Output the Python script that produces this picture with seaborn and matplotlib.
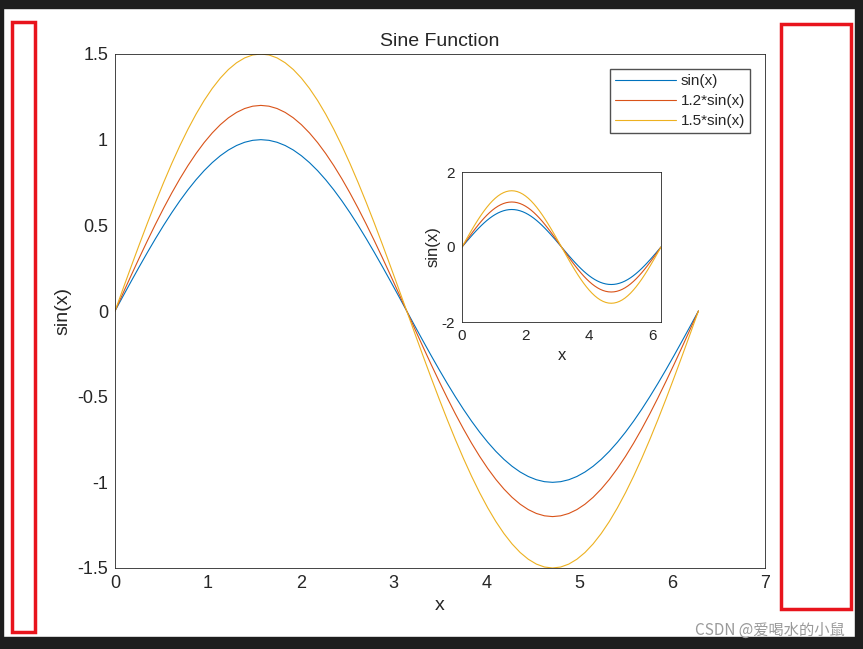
import numpy as np
import matplotlib
matplotlib.use("Agg")
import matplotlib.pyplot as plt
import matplotlib.patches as mpatches
from matplotlib import font_manager
import seaborn as sns

# x in radians, sampled every 5 degrees from 0 to 2*pi
x_vals = [k * np.pi / 36 for k in range(73)]
sin_vals = [0, .0872, .1736, .2588, .3420, .4226, .5, .5736, .6428, .7071, .7660, .8192,
            .8660, .9063, .9397, .9659, .9848, .9962, 1,
            .9962, .9848, .9659, .9397, .9063, .8660, .8192, .7660, .7071, .6428, .5736,
            .5, .4226, .3420, .2588, .1736, .0872, 0,
            -.0872, -.1736, -.2588, -.3420, -.4226, -.5, -.5736, -.6428, -.7071, -.7660, -.8192,
            -.8660, -.9063, -.9397, -.9659, -.9848, -.9962, -1,
            -.9962, -.9848, -.9659, -.9397, -.9063, -.8660, -.8192, -.7660, -.7071, -.6428, -.5736,
            -.5, -.4226, -.3420, -.2588, -.1736, -.0872, 0]
amplitudes = [1.0, 1.2, 1.5]
labels = ["sin(x)", "1.2*sin(x)", "1.5*sin(x)"]
colors = ["#0072BD", "#D95319", "#EDB120"]

sns.set_style("white")
plt.rcParams["font.family"] = ["Liberation Sans"]
plt.rcParams["axes.unicode_minus"] = False

# find a regular-weight CJK font file for the watermark
cjk_files = [f for f in font_manager.findSystemFonts() if "CJK" in f or "cjk" in f]
cjk_files.sort(key=lambda f: ("Regular" not in f, "Bold" in f, "SC" not in f, f))
cjk_prop = font_manager.FontProperties(fname=cjk_files[0]) if cjk_files else None

fig = plt.figure(figsize=(8.63, 6.49), dpi=100)
fig.patch.set_facecolor("white")

# dark frame around the screenshot
W, H = 863, 649
for (x0, y0, w, h) in [(0, 637, 863, 12), (0, 0, 863, 8), (855, 0, 8, 649), (0, 0, 3, 649)]:
    fig.add_artist(mpatches.Rectangle((x0 / W, 1 - (y0 + h) / H), w / W, h / H,
                                      transform=fig.transFigure, color="#1e1e1e", zorder=0))
# red annotation boxes
for (x0, y0, x1, y1) in [(12, 22, 35, 632), (781, 24, 851, 609)]:
    fig.add_artist(mpatches.Rectangle((x0 / W, 1 - y1 / H), (x1 - x0) / W, (y1 - y0) / H,
                                      transform=fig.transFigure, fill=False,
                                      edgecolor="#e8141c", lw=2.5, zorder=5))


def draw(ax, fs, lw):
    for a, lab, c in zip(amplitudes, labels, colors):
        sns.lineplot(x=x_vals, y=[a * v for v in sin_vals], ax=ax, color=c,
                     label=lab, linewidth=lw, legend=False)
    for s in ax.spines.values():
        s.set_color("#262626")
        s.set_linewidth(0.6)
    ax.tick_params(labelsize=fs, direction="in", length=3, pad=5, colors="#262626")


ax = fig.add_axes([115 / W, 1 - 568 / H, 650 / W, 514 / H])
draw(ax, 13, 0.8)
ax.set_xlim(0, 7)
ax.set_ylim(-1.5, 1.5)
ax.set_xticks(range(8))
ax.set_yticks([-1.5, -1, -0.5, 0, 0.5, 1, 1.5])
ax.set_yticklabels(["-1.5", "-1", "-0.5", "0", "0.5", "1", "1.5"])
ax.set_xlabel("x", fontsize=14)
ax.set_ylabel("sin(x)", fontsize=14, labelpad=4)
ax.set_title("Sine Function", fontsize=14)
ax.legend(loc="upper right", fontsize=11, frameon=True, fancybox=False,
          edgecolor="#262626", borderaxespad=1.0, handlelength=4, handletextpad=0.3,
          borderpad=0.3, labelspacing=0.4)

ins = fig.add_axes([462 / W, 1 - 322 / H, 199 / W, 150 / H])
draw(ins, 11, 0.8)
ins.set_xlim(0, 2 * np.pi)
ins.set_ylim(-2, 2)
ins.set_xticks([0, 2, 4, 6])
ins.set_yticks([-2, 0, 2])
ins.set_xlabel("x", fontsize=12)
ins.set_ylabel("sin(x)", fontsize=12, labelpad=1)

fig.text(845 / W, 1 - 630 / H, "CSDN @爱喝水的小鼠", ha="right", va="center",
         fontsize=11, color="#9a9a9a", fontproperties=cjk_prop)

fig.savefig("out.png", dpi=100)
